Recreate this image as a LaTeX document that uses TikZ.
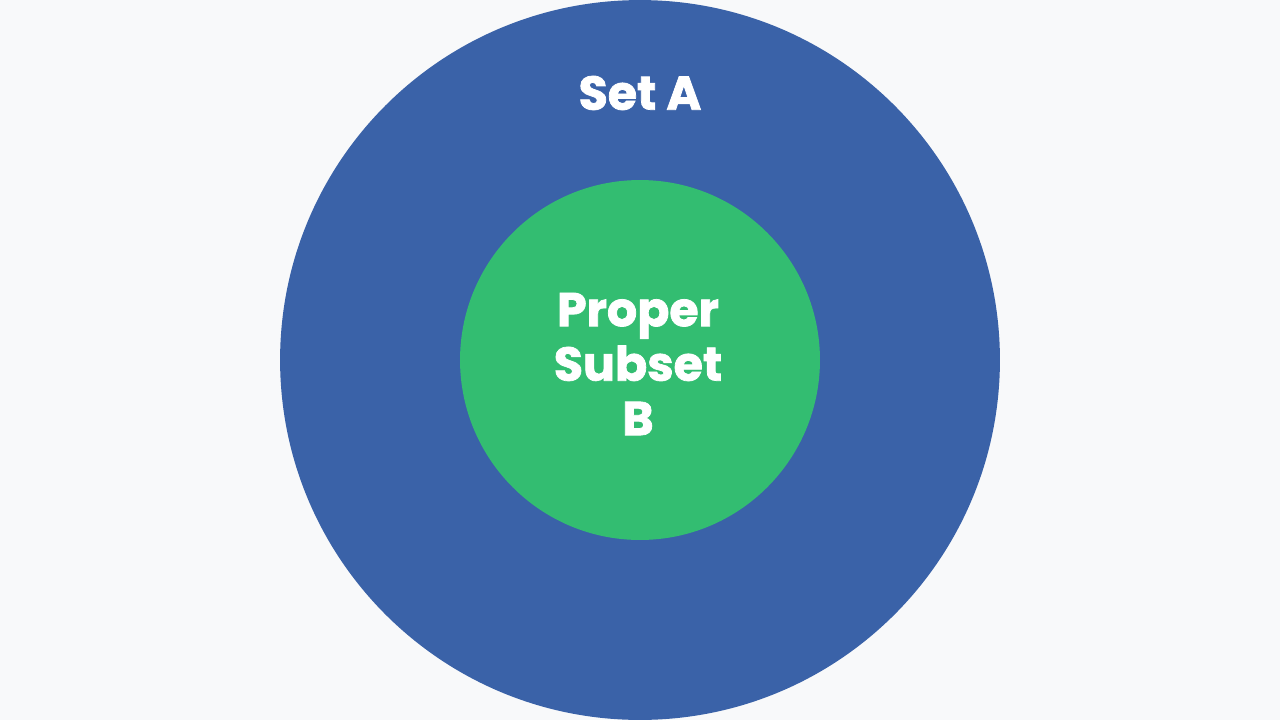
\documentclass[tikz,border=0pt]{standalone}
\usepackage{fontspec}
\setmainfont{Poppins}[FakeBold=1.6]
\definecolor{bgcol}{HTML}{F8F9FA}
\definecolor{setblue}{HTML}{3A62A8}
\definecolor{subgreen}{HTML}{33BD71}
\tikzset{
  setcircle/.style={circle,inner sep=0pt,minimum size=#1},
  setlabel/.style={text=white,font=\fontsize{27}{31}\selectfont\bfseries,align=center}
}
\begin{document}
\begin{tikzpicture}[x=0.02cm,y=-0.02cm]
\fill[bgcol] (0,0) rectangle (1280,720);
\useasboundingbox (0,0) rectangle (1280,720);

\node[setcircle=14.4cm,fill=setblue] (setA) at (640,360) {};
\node[setcircle=7.2cm,fill=subgreen] (setB) at (640,360) {};

\node[setlabel] (labelA) at (640,93) {Set A};
\node[setlabel] (labelB) at (638,364) {Proper\\Subset\\B};
\end{tikzpicture}
\end{document}
